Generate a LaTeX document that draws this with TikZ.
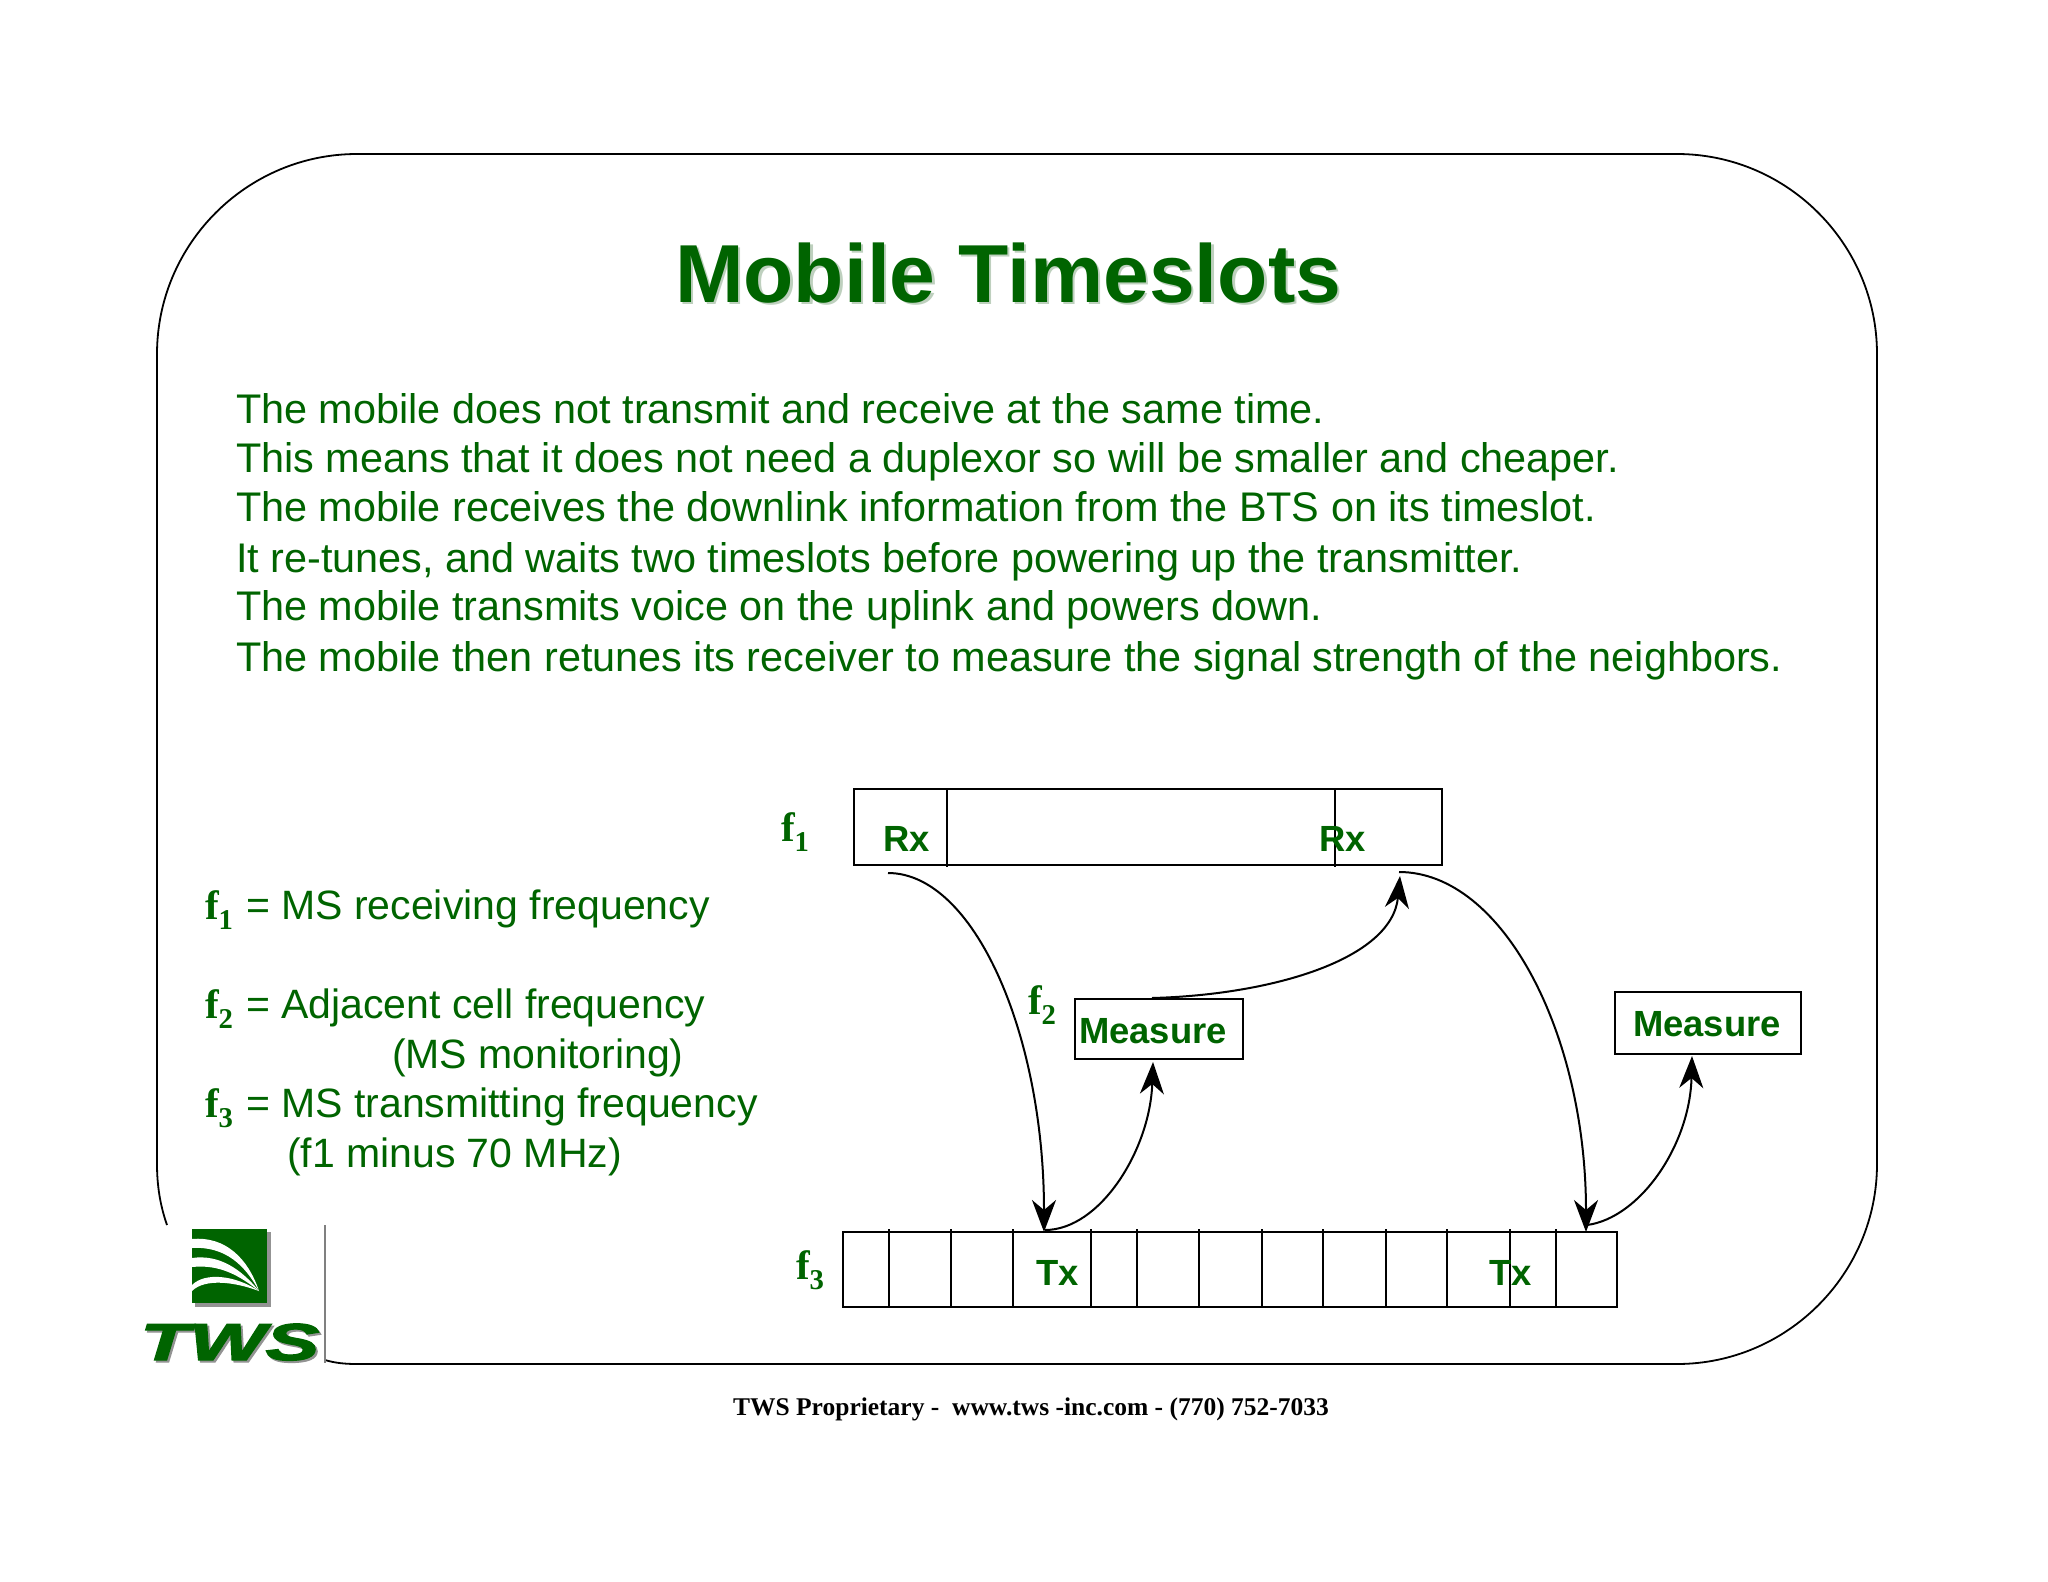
\documentclass[tikz,border=0pt]{standalone}
\usepackage{fontspec}
\setmainfont{Liberation Sans}
\newfontfamily\tmsfont{Liberation Serif}
\newfontfamily\logofont[FakeBold=2.2]{Liberation Sans Bold Italic}
\usetikzlibrary{arrows.meta}
\definecolor{twsgreen}{RGB}{0,100,0}
\definecolor{titleshade}{RGB}{190,208,190}
\tikzset{
  x=1pt,y=-1pt,
  txt/.style={anchor=base west,inner sep=0pt,outer sep=0pt,text=twsgreen},
  bodytxt/.style={txt,font=\fontsize{41.4}{41.4}\selectfont},
  legtxt/.style={txt,font=\fontsize{41}{41}\selectfont},
  lbl/.style={txt,font=\fontsize{36.4}{36.4}\selectfont\bfseries},
  flbl/.style={txt,font=\fontsize{41}{41}\selectfont\tmsfont\bfseries},
  boxn/.style={draw=black,line width=2pt,anchor=north west,inner sep=0pt,outer sep=0pt},
  divl/.style={draw=black,line width=2pt},
  conn/.style={draw=black,line width=2pt,-{Stealth[length=32pt,width=24pt,inset=10pt]}},
  frame/.style={draw=black,line width=1.8pt},
}
\newcommand{\ffs}[1]{f\textsubscript{#1}}
\begin{document}
\begin{tikzpicture}
\useasboundingbox (0,0) rectangle (2048,1582);
% frame
\draw[frame] (167,1225) .. controls (160,1205) and (157,1185) .. (157,1164)
  -- (157,354) .. controls (157,244) and (247,154) .. (357,154)
  -- (1677,154) .. controls (1787,154) and (1877,244) .. (1877,354)
  -- (1877,1164) .. controls (1877,1274) and (1787,1364) .. (1677,1364)
  -- (357,1364) .. controls (345,1364) and (335,1363) .. (325,1360);
% title
\node[txt,text=titleshade,font=\fontsize{82.3}{82}\selectfont\bfseries] (titleshadow) at (677.5,304.5) {Mobile Timeslots};
\node[txt,font=\fontsize{82.3}{82}\selectfont\bfseries] (title) at (675,302) {Mobile Timeslots};
% body
\node[bodytxt] (b1) at (236,423) {The mobile does not transmit and receive at the same time.};
\node[bodytxt] (b2) at (236,472) {This means that it does not need a duplexor so will be smaller and cheaper.};
\node[bodytxt] (b3) at (236,521) {The mobile receives the downlink information from the BTS on its timeslot.};
\node[bodytxt] (b4) at (236,572) {It re-tunes, and waits two timeslots before powering up the transmitter.};
\node[bodytxt] (b5) at (236,620) {The mobile transmits voice on the uplink and powers down.};
\node[bodytxt] (b6) at (236,671) {The mobile then retunes its receiver to measure the signal strength of the neighbors.};
% legend
\node[flbl] (l1f) at (205,919) {\ffs{1}};
\node[legtxt] (l1) at (246,919) {= MS receiving frequency};
\node[flbl] (l2f) at (205,1018) {\ffs{2}};
\node[legtxt] (l2) at (246,1018) {= Adjacent cell frequency};
\node[legtxt] (l2b) at (392,1068) {(MS monitoring)};
\node[flbl] (l3f) at (205,1117) {\ffs{3}};
\node[legtxt] (l3) at (246,1117) {= MS transmitting frequency};
\node[legtxt] (l3b) at (287,1167) {(f1 minus 70 MHz)};
% bars
\node[boxn,minimum width=588pt,minimum height=76pt] (fbar1) at (854,789) {};
\node[boxn,minimum width=774pt,minimum height=75pt] (fbar3) at (843,1232) {};
\foreach \x/\n in {947/a,1335/b}
  \draw[divl] (\x,789) coordinate (t\n) -- (\x,867) coordinate (u\n);
\foreach \x/\n in {889/c,951/d,1013/e,1091/f,1137/g,1199/h,1262/i,1323/j,1386/k,1447/l,1510/m,1556/n}
  \draw[divl] (\x,1229) coordinate (t\n) -- (\x,1308) coordinate (u\n);
% measure boxes
\node[boxn,minimum width=168pt,minimum height=60pt] (m1) at (1075,999) {};
\node[boxn,minimum width=186pt,minimum height=62pt] (m2) at (1615,992) {};
% labels
\node[flbl] (f1) at (781,841) {\ffs{1}};
\node[flbl] (f2) at (1028,1014) {\ffs{2}};
\node[flbl] (f3) at (796,1279) {\ffs{3}};
\node[lbl] (rx1) at (883,851) {Rx};
\node[lbl] (rx2) at (1319,851) {Rx};
\node[lbl] (tx1) at (1036,1285) {Tx};
\node[lbl] (tx2) at (1489,1285) {Tx};
\node[lbl] (ml1) at (1079,1043) {Measure};
\node[lbl] (ml2) at (1633,1036) {Measure};
% connector ends
\coordinate (a0) at (888,873);
\coordinate (a1) at (1044,1232);
\coordinate (b0) at (1045,1230);
\coordinate (b1e) at (1153,1062);
\coordinate (c0) at (1152,998);
\coordinate (c1) at (1400,876);
\coordinate (d0) at (1399,872);
\coordinate (d1) at (1586,1232);
\coordinate (e0) at (1587,1225);
\coordinate (e1) at (1692,1056);
\draw[conn] (a0) .. controls (974,873) and (1044,1034) .. (a1);
\draw[conn] (b0) .. controls (1100,1230) and (1150,1150) .. (b1e);
\draw[conn] (c0) .. controls (1270,995) and (1392,960) .. (c1);
\draw[conn] (d0) .. controls (1503,872) and (1586,1034) .. (d1);
\draw[conn] (e0) .. controls (1640,1218) and (1690,1145) .. (e1);
% logo
\fill[gray!85] (195,1232) rectangle (271,1307);
\fill[twsgreen] (192,1229) rectangle (267,1303);
\fill[white] (192,1239) .. controls (225,1236) and (248,1258) .. (259,1291)
  .. controls (245,1265) and (225,1246) .. (192,1248) -- cycle;
\fill[white] (192,1258) .. controls (220,1254) and (242,1270) .. (259,1291)
  .. controls (240,1276) and (220,1264) .. (192,1267) -- cycle;
\fill[white] (192,1285) .. controls (205,1272) and (235,1275) .. (259,1291)
  .. controls (235,1282) and (205,1278) .. (192,1291) -- cycle;
\node[anchor=base west,inner sep=0pt,text=gray!85,font=\fontsize{52}{52}\selectfont\logofont] (logos) at (142,1362) {\scalebox{1.55}[1]{TWS}};
\node[anchor=base west,inner sep=0pt,text=twsgreen,font=\fontsize{52}{52}\selectfont\logofont] (logot) at (140,1360) {\scalebox{1.55}[1]{TWS}};
\draw[draw=gray,line width=1.5pt] (325,1225) -- (325,1363);
% footer
\node[anchor=base,inner sep=0pt,font=\fontsize{25.5}{26}\selectfont\tmsfont\bfseries] (footer) at (1031,1415) {TWS Proprietary -~ www.tws -inc.com - (770) 752-7033};
\end{tikzpicture}
\end{document}
